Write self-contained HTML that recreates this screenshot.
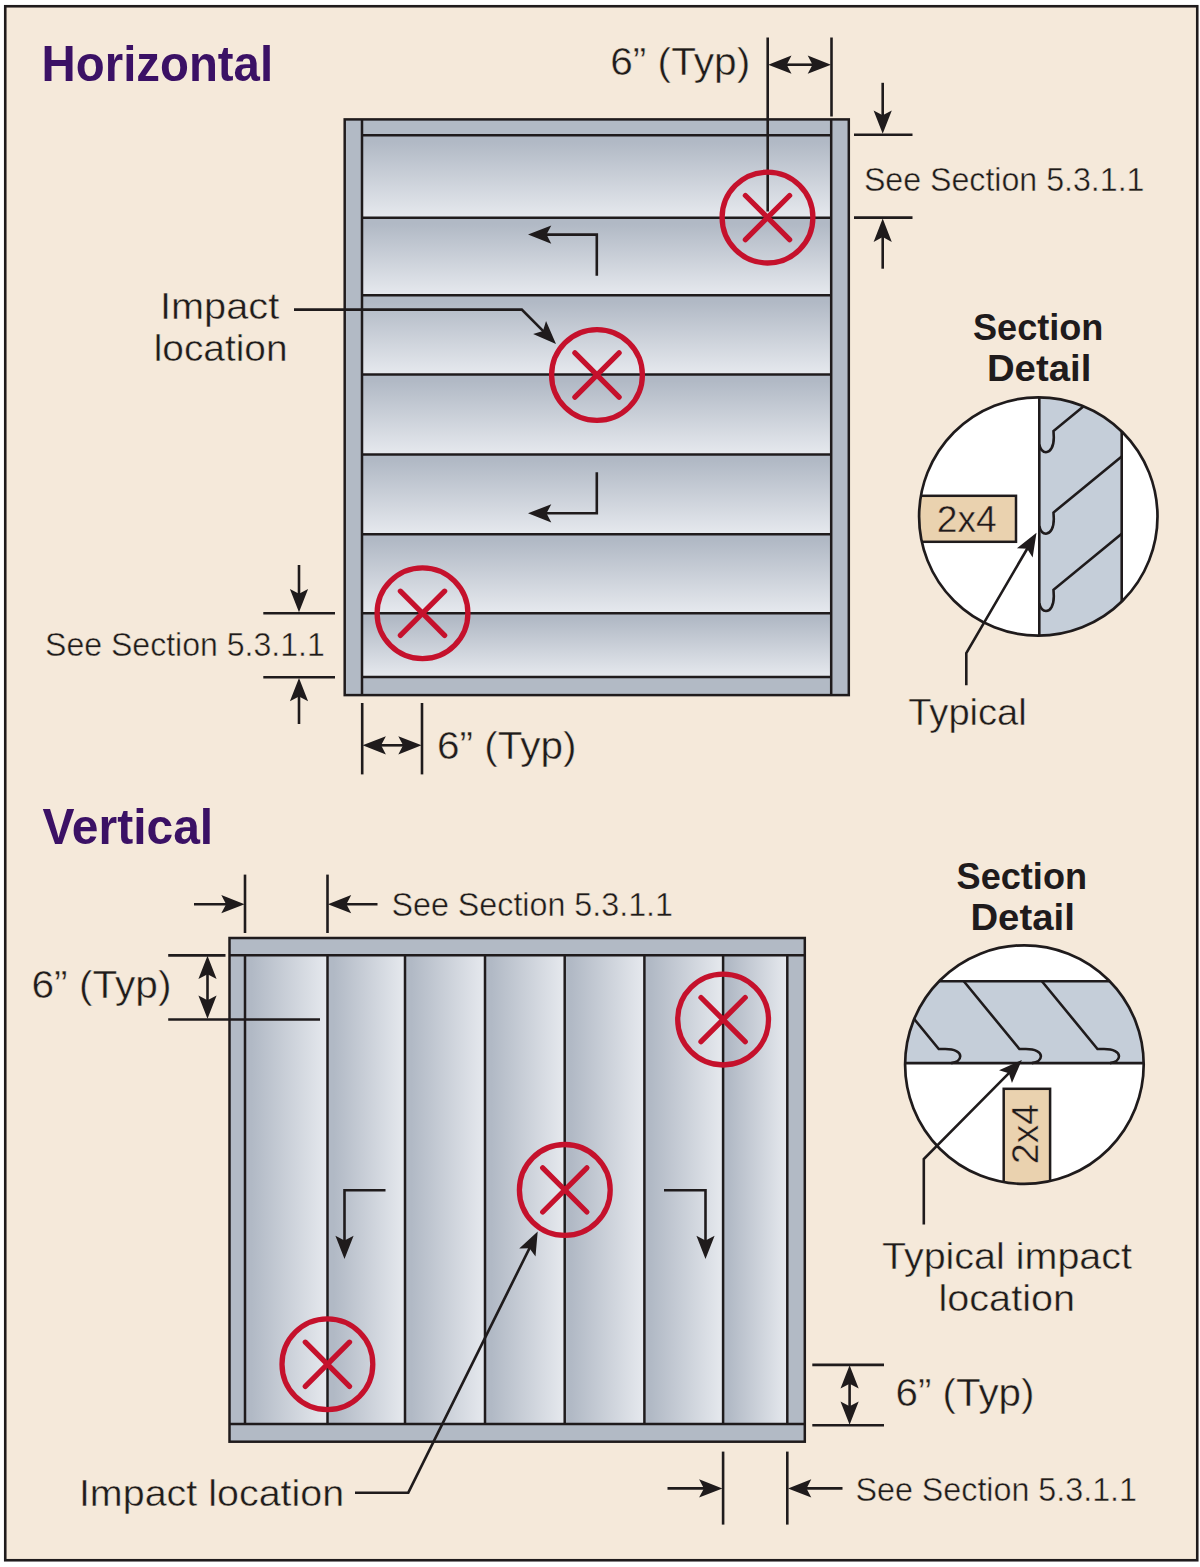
<!DOCTYPE html>
<html lang="en"><head><meta charset="utf-8"><title>Impact locations - horizontal and vertical</title>
<style>
html,body{margin:0;padding:0;background:#fff}
svg{display:block}
text{font-family:"Liberation Sans",sans-serif;fill:#1f1b1c}
.lt{stroke:#f5e9da;stroke-width:0.45px;stroke-linejoin:round}
.bd{font-weight:bold}
.hd{font-weight:bold;fill:#3b1165}
.lt2{stroke:#ead2af;stroke-width:0.45px;stroke-linejoin:round}
</style></head><body>
<svg width="1200" height="1567" viewBox="0 0 1200 1567">
<defs>
<linearGradient id="gh" x1="0" y1="0" x2="0" y2="1"><stop offset="0" stop-color="#b1b9c5"/><stop offset="0.08" stop-color="#b1b9c5"/><stop offset="1" stop-color="#e6e9ee"/></linearGradient>
<linearGradient id="gv" x1="0" y1="0" x2="1" y2="0"><stop offset="0" stop-color="#b1b9c5"/><stop offset="0.08" stop-color="#b1b9c5"/><stop offset="1" stop-color="#e6e9ee"/></linearGradient>
<clipPath id="c1"><circle cx="1038.3" cy="516.5" r="119.2"/></clipPath>
<clipPath id="c2"><circle cx="1024.4" cy="1064.6" r="119.3"/></clipPath>
</defs>
<rect x="0" y="0" width="1200" height="1567" fill="#fff"/>
<rect x="5.25" y="6.25" width="1192" height="1554" fill="#f5e9da" stroke="#1f1b1c" stroke-width="2.6"/>
<rect x="344.7" y="119.4" width="504.1" height="575.7" fill="#b2bac5"/>
<clipPath id="hc0"><rect x="362" y="135.3" width="469.2" height="82.5"/></clipPath>
<rect x="362" y="135.3" width="469.2" height="82.5" fill="url(#gh)" clip-path="url(#hc0)"/>
<clipPath id="hc1"><rect x="362" y="217.8" width="469.2" height="77.5"/></clipPath>
<rect x="362" y="217.8" width="469.2" height="77.5" fill="url(#gh)" clip-path="url(#hc1)"/>
<clipPath id="hc2"><rect x="362" y="295.3" width="469.2" height="79.3"/></clipPath>
<rect x="362" y="295.3" width="469.2" height="79.3" fill="url(#gh)" clip-path="url(#hc2)"/>
<clipPath id="hc3"><rect x="362" y="374.6" width="469.2" height="79.9"/></clipPath>
<rect x="362" y="374.6" width="469.2" height="79.9" fill="url(#gh)" clip-path="url(#hc3)"/>
<clipPath id="hc4"><rect x="362" y="454.5" width="469.2" height="79.8"/></clipPath>
<rect x="362" y="454.5" width="469.2" height="79.8" fill="url(#gh)" clip-path="url(#hc4)"/>
<clipPath id="hc5"><rect x="362" y="534.3" width="469.2" height="78.9"/></clipPath>
<rect x="362" y="534.3" width="469.2" height="78.9" fill="url(#gh)" clip-path="url(#hc5)"/>
<clipPath id="hc6"><rect x="362" y="613.2" width="469.2" height="63.9"/></clipPath>
<rect x="362" y="613.2" width="469.2" height="63.9" fill="url(#gh)" clip-path="url(#hc6)"/>
<line x1="362" y1="135.3" x2="831.2" y2="135.3" stroke="#1f1b1c" stroke-width="2.5" stroke-linecap="butt"/>
<line x1="362" y1="217.8" x2="831.2" y2="217.8" stroke="#1f1b1c" stroke-width="2.5" stroke-linecap="butt"/>
<line x1="362" y1="295.3" x2="831.2" y2="295.3" stroke="#1f1b1c" stroke-width="2.5" stroke-linecap="butt"/>
<line x1="362" y1="374.6" x2="831.2" y2="374.6" stroke="#1f1b1c" stroke-width="2.5" stroke-linecap="butt"/>
<line x1="362" y1="454.5" x2="831.2" y2="454.5" stroke="#1f1b1c" stroke-width="2.5" stroke-linecap="butt"/>
<line x1="362" y1="534.3" x2="831.2" y2="534.3" stroke="#1f1b1c" stroke-width="2.5" stroke-linecap="butt"/>
<line x1="362" y1="613.2" x2="831.2" y2="613.2" stroke="#1f1b1c" stroke-width="2.5" stroke-linecap="butt"/>
<line x1="362" y1="677.1" x2="831.2" y2="677.1" stroke="#1f1b1c" stroke-width="2.5" stroke-linecap="butt"/>
<line x1="362" y1="119.4" x2="362" y2="695.1" stroke="#1f1b1c" stroke-width="2.5" stroke-linecap="butt"/>
<line x1="831.2" y1="119.4" x2="831.2" y2="695.1" stroke="#1f1b1c" stroke-width="2.5" stroke-linecap="butt"/>
<rect x="344.7" y="119.4" width="504.1" height="575.7" fill="none" stroke="#1f1b1c" stroke-width="2.5"/>
<polyline points="596.8,275.7 596.8,234.6 545,234.6" fill="none" stroke="#1f1b1c" stroke-width="2.6" stroke-linejoin="miter"/>
<polygon points="528,234.6 551.3,243.7 546.5,234.6 551.3,225.5" fill="#1f1b1c"/>
<polyline points="596.8,472.2 596.8,513.3 545,513.3" fill="none" stroke="#1f1b1c" stroke-width="2.6" stroke-linejoin="miter"/>
<polygon points="528,513.3 551.3,522.4 546.5,513.3 551.3,504.2" fill="#1f1b1c"/>
<line x1="767.7" y1="37.5" x2="767.7" y2="211.5" stroke="#1f1b1c" stroke-width="2.6" stroke-linecap="butt"/>
<line x1="831.5" y1="37.5" x2="831.5" y2="116.5" stroke="#1f1b1c" stroke-width="2.6" stroke-linecap="butt"/>
<line x1="785.7" y1="64.7" x2="813.5" y2="64.7" stroke="#1f1b1c" stroke-width="2.6" stroke-linecap="butt"/>
<polygon points="831,64.7 807.7,55.6 812.5,64.7 807.7,73.8" fill="#1f1b1c"/>
<polygon points="768.2,64.7 791.5,73.8 786.7,64.7 791.5,55.6" fill="#1f1b1c"/>
<text class="lt" x="610.2" y="75" font-size="39.3" textLength="140" lengthAdjust="spacingAndGlyphs" text-anchor="start">6” (Typ)</text>
<line x1="854" y1="134.8" x2="912.5" y2="134.8" stroke="#1f1b1c" stroke-width="2.6" stroke-linecap="butt"/>
<line x1="854" y1="217.6" x2="912.5" y2="217.6" stroke="#1f1b1c" stroke-width="2.6" stroke-linecap="butt"/>
<line x1="882.7" y1="82.8" x2="882.7" y2="116.3" stroke="#1f1b1c" stroke-width="2.6" stroke-linecap="butt"/>
<polygon points="882.7,133.8 891.8,110.5 882.7,115.3 873.6,110.5" fill="#1f1b1c"/>
<line x1="882.7" y1="268.7" x2="882.7" y2="236.1" stroke="#1f1b1c" stroke-width="2.6" stroke-linecap="butt"/>
<polygon points="882.7,218.6 873.6,241.9 882.7,237.1 891.8,241.9" fill="#1f1b1c"/>
<text class="lt" x="863.9" y="191.2" font-size="33" textLength="280.6" lengthAdjust="spacingAndGlyphs" text-anchor="start">See Section 5.3.1.1</text>
<circle cx="767.5" cy="217.6" r="45.4" fill="none" stroke="#c5112c" stroke-width="5.3"/>
<line x1="745.4" y1="195.5" x2="789.6" y2="239.7" stroke="#c5112c" stroke-width="5.3" stroke-linecap="round"/>
<line x1="745.4" y1="239.7" x2="789.6" y2="195.5" stroke="#c5112c" stroke-width="5.3" stroke-linecap="round"/>
<circle cx="597" cy="375" r="45.4" fill="none" stroke="#c5112c" stroke-width="5.3"/>
<line x1="574.9" y1="352.9" x2="619.1" y2="397.1" stroke="#c5112c" stroke-width="5.3" stroke-linecap="round"/>
<line x1="574.9" y1="397.1" x2="619.1" y2="352.9" stroke="#c5112c" stroke-width="5.3" stroke-linecap="round"/>
<circle cx="422.5" cy="613.3" r="45.4" fill="none" stroke="#c5112c" stroke-width="5.3"/>
<line x1="400.4" y1="591.2" x2="444.6" y2="635.4" stroke="#c5112c" stroke-width="5.3" stroke-linecap="round"/>
<line x1="400.4" y1="635.4" x2="444.6" y2="591.2" stroke="#c5112c" stroke-width="5.3" stroke-linecap="round"/>
<text class="lt" x="160" y="319.3" font-size="37.4" textLength="119.2" lengthAdjust="spacingAndGlyphs" text-anchor="start">Impact</text>
<text class="lt" x="153.7" y="361.1" font-size="37.4" textLength="133.9" lengthAdjust="spacingAndGlyphs" text-anchor="start">location</text>
<polyline points="294,309.6 521.8,309.6 544.01,331.94" fill="none" stroke="#1f1b1c" stroke-width="2.6" stroke-linejoin="miter"/>
<polygon points="556,344 546.03,321.06 542.96,330.88 533.12,333.89" fill="#1f1b1c"/>
<line x1="263.3" y1="613.2" x2="335" y2="613.2" stroke="#1f1b1c" stroke-width="2.6" stroke-linecap="butt"/>
<line x1="263.3" y1="677.2" x2="335" y2="677.2" stroke="#1f1b1c" stroke-width="2.6" stroke-linecap="butt"/>
<line x1="299" y1="565" x2="299" y2="594.7" stroke="#1f1b1c" stroke-width="2.6" stroke-linecap="butt"/>
<polygon points="299,612.2 308.1,588.9 299,593.7 289.9,588.9" fill="#1f1b1c"/>
<line x1="299" y1="724" x2="299" y2="695.5" stroke="#1f1b1c" stroke-width="2.6" stroke-linecap="butt"/>
<polygon points="299,678 289.9,701.3 299,696.5 308.1,701.3" fill="#1f1b1c"/>
<text class="lt" x="45" y="656.2" font-size="33" textLength="279.8" lengthAdjust="spacingAndGlyphs" text-anchor="start">See Section 5.3.1.1</text>
<line x1="362.2" y1="703" x2="362.2" y2="774.4" stroke="#1f1b1c" stroke-width="2.6" stroke-linecap="butt"/>
<line x1="422" y1="703" x2="422" y2="774.4" stroke="#1f1b1c" stroke-width="2.6" stroke-linecap="butt"/>
<line x1="380.1" y1="745.3" x2="404.1" y2="745.3" stroke="#1f1b1c" stroke-width="2.6" stroke-linecap="butt"/>
<polygon points="421.6,745.3 398.3,736.2 403.1,745.3 398.3,754.4" fill="#1f1b1c"/>
<polygon points="362.6,745.3 385.9,754.4 381.1,745.3 385.9,736.2" fill="#1f1b1c"/>
<text class="lt" x="437" y="759.3" font-size="39.3" textLength="139.5" lengthAdjust="spacingAndGlyphs" text-anchor="start">6” (Typ)</text>
<text class="bd" x="1038.2" y="339.8" font-size="36.5" textLength="130.4" lengthAdjust="spacingAndGlyphs" text-anchor="middle">Section</text>
<text class="bd" x="1039.1" y="381.2" font-size="36.5" textLength="104.4" lengthAdjust="spacingAndGlyphs" text-anchor="middle">Detail</text>
<circle cx="1038.3" cy="516.5" r="119.2" fill="#fff"/>
<g clip-path="url(#c1)">
<rect x="1039.3" y="380" width="82.4" height="280" fill="#c5ced9"/>
<rect x="900" y="495.8" width="116" height="46" fill="#ead2af" stroke="#1f1b1c" stroke-width="2.5"/>
<line x1="1121.7" y1="380" x2="1121.7" y2="660" stroke="#1f1b1c" stroke-width="2.6" stroke-linecap="butt"/>
<path d="M1121.7,375 L1053.5,431 L1053.8,437.5 C1053.8,446.5 1050.5,452.2 1046,452.2 C1042,452.2 1040.2,448.5 1039.3,444.5" fill="none" stroke="#1f1b1c" stroke-width="2.6" stroke-linejoin="miter"/>
<path d="M1121.7,456.5 L1053.5,512.5 L1053.8,519 C1053.8,528 1050.5,533.7 1046,533.7 C1042,533.7 1040.2,530 1039.3,526" fill="none" stroke="#1f1b1c" stroke-width="2.6" stroke-linejoin="miter"/>
<path d="M1121.7,533.8 L1053.5,589.8 L1053.8,596.3 C1053.8,605.3 1050.5,611 1046,611 C1042,611 1040.2,607.3 1039.3,603.3" fill="none" stroke="#1f1b1c" stroke-width="2.6" stroke-linejoin="miter"/>
<line x1="1039.3" y1="380" x2="1039.3" y2="660" stroke="#1f1b1c" stroke-width="2.6" stroke-linecap="butt"/>
</g>
<circle cx="1038.3" cy="516.5" r="119.2" fill="none" stroke="#1f1b1c" stroke-width="2.7"/>
<text class="lt2" x="936.8" y="531.8" font-size="36.5" textLength="60" lengthAdjust="spacingAndGlyphs" text-anchor="start">2x4</text>
<polyline points="966.3,685.2 966.3,653 1027.94,547.49" fill="none" stroke="#1f1b1c" stroke-width="2.6" stroke-linejoin="miter"/>
<polygon points="1036.5,532.8 1016.91,548.36 1027.19,548.79 1032.64,557.51" fill="#1f1b1c"/>
<text class="lt" x="908.2" y="725.1" font-size="37.4" textLength="118.6" lengthAdjust="spacingAndGlyphs" text-anchor="start">Typical</text>
<text class="hd" x="41.6" y="81.2" font-size="50.3" textLength="231.5" lengthAdjust="spacingAndGlyphs" text-anchor="start">Horizontal</text>
<text class="hd" x="42.5" y="843.7" font-size="50.3" textLength="170.7" lengthAdjust="spacingAndGlyphs" text-anchor="start">Vertical</text>
<rect x="229.5" y="938" width="575.3" height="503.7" fill="#b2bac5"/>
<clipPath id="vc0"><rect x="245" y="955.2" width="82.5" height="468.8"/></clipPath>
<rect x="245" y="955.2" width="82.5" height="468.8" fill="url(#gv)" clip-path="url(#vc0)"/>
<clipPath id="vc1"><rect x="327.5" y="955.2" width="77.5" height="468.8"/></clipPath>
<rect x="327.5" y="955.2" width="77.5" height="468.8" fill="url(#gv)" clip-path="url(#vc1)"/>
<clipPath id="vc2"><rect x="405" y="955.2" width="80" height="468.8"/></clipPath>
<rect x="405" y="955.2" width="80" height="468.8" fill="url(#gv)" clip-path="url(#vc2)"/>
<clipPath id="vc3"><rect x="485" y="955.2" width="79.7" height="468.8"/></clipPath>
<rect x="485" y="955.2" width="79.7" height="468.8" fill="url(#gv)" clip-path="url(#vc3)"/>
<clipPath id="vc4"><rect x="564.7" y="955.2" width="79.7" height="468.8"/></clipPath>
<rect x="564.7" y="955.2" width="79.7" height="468.8" fill="url(#gv)" clip-path="url(#vc4)"/>
<clipPath id="vc5"><rect x="644.4" y="955.2" width="78.7" height="468.8"/></clipPath>
<rect x="644.4" y="955.2" width="78.7" height="468.8" fill="url(#gv)" clip-path="url(#vc5)"/>
<clipPath id="vc6"><rect x="723.1" y="955.2" width="64.2" height="468.8"/></clipPath>
<rect x="723.1" y="955.2" width="64.2" height="468.8" fill="url(#gv)" clip-path="url(#vc6)"/>
<line x1="245" y1="955.2" x2="245" y2="1424" stroke="#1f1b1c" stroke-width="2.5" stroke-linecap="butt"/>
<line x1="327.5" y1="955.2" x2="327.5" y2="1424" stroke="#1f1b1c" stroke-width="2.5" stroke-linecap="butt"/>
<line x1="405" y1="955.2" x2="405" y2="1424" stroke="#1f1b1c" stroke-width="2.5" stroke-linecap="butt"/>
<line x1="485" y1="955.2" x2="485" y2="1424" stroke="#1f1b1c" stroke-width="2.5" stroke-linecap="butt"/>
<line x1="564.7" y1="955.2" x2="564.7" y2="1424" stroke="#1f1b1c" stroke-width="2.5" stroke-linecap="butt"/>
<line x1="644.4" y1="955.2" x2="644.4" y2="1424" stroke="#1f1b1c" stroke-width="2.5" stroke-linecap="butt"/>
<line x1="723.1" y1="955.2" x2="723.1" y2="1424" stroke="#1f1b1c" stroke-width="2.5" stroke-linecap="butt"/>
<line x1="787.3" y1="955.2" x2="787.3" y2="1424" stroke="#1f1b1c" stroke-width="2.5" stroke-linecap="butt"/>
<line x1="229.5" y1="955.2" x2="804.8" y2="955.2" stroke="#1f1b1c" stroke-width="2.5" stroke-linecap="butt"/>
<line x1="229.5" y1="1424" x2="804.8" y2="1424" stroke="#1f1b1c" stroke-width="2.5" stroke-linecap="butt"/>
<rect x="229.5" y="938" width="575.3" height="503.7" fill="none" stroke="#1f1b1c" stroke-width="2.5"/>
<polyline points="385.5,1190.3 344.5,1190.3 344.5,1244" fill="none" stroke="#1f1b1c" stroke-width="2.6" stroke-linejoin="miter"/>
<polygon points="344.5,1259 353.6,1235.7 344.5,1240.5 335.4,1235.7" fill="#1f1b1c"/>
<polyline points="664,1190.3 705.5,1190.3 705.5,1244" fill="none" stroke="#1f1b1c" stroke-width="2.6" stroke-linejoin="miter"/>
<polygon points="705.5,1259 714.6,1235.7 705.5,1240.5 696.4,1235.7" fill="#1f1b1c"/>
<line x1="245" y1="874.6" x2="245" y2="933" stroke="#1f1b1c" stroke-width="2.6" stroke-linecap="butt"/>
<line x1="327.5" y1="874.6" x2="327.5" y2="933" stroke="#1f1b1c" stroke-width="2.6" stroke-linecap="butt"/>
<line x1="194" y1="904.2" x2="227.1" y2="904.2" stroke="#1f1b1c" stroke-width="2.6" stroke-linecap="butt"/>
<polygon points="244.6,904.2 221.3,895.1 226.1,904.2 221.3,913.3" fill="#1f1b1c"/>
<line x1="377.5" y1="904.2" x2="345.4" y2="904.2" stroke="#1f1b1c" stroke-width="2.6" stroke-linecap="butt"/>
<polygon points="327.9,904.2 351.2,913.3 346.4,904.2 351.2,895.1" fill="#1f1b1c"/>
<text class="lt" x="391.5" y="916.2" font-size="33" textLength="281.5" lengthAdjust="spacingAndGlyphs" text-anchor="start">See Section 5.3.1.1</text>
<line x1="168.2" y1="955.4" x2="225.5" y2="955.4" stroke="#1f1b1c" stroke-width="2.6" stroke-linecap="butt"/>
<line x1="168.2" y1="1019.5" x2="320" y2="1019.5" stroke="#1f1b1c" stroke-width="2.6" stroke-linecap="butt"/>
<line x1="207.5" y1="973.2" x2="207.5" y2="1001.3" stroke="#1f1b1c" stroke-width="2.6" stroke-linecap="butt"/>
<polygon points="207.5,1018.8 216.6,995.5 207.5,1000.3 198.4,995.5" fill="#1f1b1c"/>
<polygon points="207.5,955.7 198.4,979 207.5,974.2 216.6,979" fill="#1f1b1c"/>
<text class="lt" x="31.5" y="997.6" font-size="39.3" textLength="140" lengthAdjust="spacingAndGlyphs" text-anchor="start">6” (Typ)</text>
<line x1="812.3" y1="1364.9" x2="884" y2="1364.9" stroke="#1f1b1c" stroke-width="2.6" stroke-linecap="butt"/>
<line x1="812.3" y1="1425.2" x2="884" y2="1425.2" stroke="#1f1b1c" stroke-width="2.6" stroke-linecap="butt"/>
<line x1="849.6" y1="1382.8" x2="849.6" y2="1407.3" stroke="#1f1b1c" stroke-width="2.6" stroke-linecap="butt"/>
<polygon points="849.6,1424.8 858.7,1401.5 849.6,1406.3 840.5,1401.5" fill="#1f1b1c"/>
<polygon points="849.6,1365.3 840.5,1388.6 849.6,1383.8 858.7,1388.6" fill="#1f1b1c"/>
<text class="lt" x="895.5" y="1406" font-size="39.3" textLength="139" lengthAdjust="spacingAndGlyphs" text-anchor="start">6” (Typ)</text>
<line x1="723.1" y1="1451.6" x2="723.1" y2="1524.6" stroke="#1f1b1c" stroke-width="2.6" stroke-linecap="butt"/>
<line x1="787.3" y1="1451.6" x2="787.3" y2="1524.6" stroke="#1f1b1c" stroke-width="2.6" stroke-linecap="butt"/>
<line x1="667.5" y1="1488.4" x2="704.9" y2="1488.4" stroke="#1f1b1c" stroke-width="2.6" stroke-linecap="butt"/>
<polygon points="722.4,1488.4 699.1,1479.3 703.9,1488.4 699.1,1497.5" fill="#1f1b1c"/>
<line x1="842.5" y1="1488.4" x2="805.5" y2="1488.4" stroke="#1f1b1c" stroke-width="2.6" stroke-linecap="butt"/>
<polygon points="788,1488.4 811.3,1497.5 806.5,1488.4 811.3,1479.3" fill="#1f1b1c"/>
<text class="lt" x="855.5" y="1501.2" font-size="33" textLength="281.5" lengthAdjust="spacingAndGlyphs" text-anchor="start">See Section 5.3.1.1</text>
<circle cx="723.1" cy="1019.6" r="45.4" fill="none" stroke="#c5112c" stroke-width="5.3"/>
<line x1="701" y1="997.5" x2="745.2" y2="1041.7" stroke="#c5112c" stroke-width="5.3" stroke-linecap="round"/>
<line x1="701" y1="1041.7" x2="745.2" y2="997.5" stroke="#c5112c" stroke-width="5.3" stroke-linecap="round"/>
<circle cx="564.8" cy="1189.9" r="45.4" fill="none" stroke="#c5112c" stroke-width="5.3"/>
<line x1="542.7" y1="1167.8" x2="586.9" y2="1212" stroke="#c5112c" stroke-width="5.3" stroke-linecap="round"/>
<line x1="542.7" y1="1212" x2="586.9" y2="1167.8" stroke="#c5112c" stroke-width="5.3" stroke-linecap="round"/>
<circle cx="327.4" cy="1364.3" r="45.4" fill="none" stroke="#c5112c" stroke-width="5.3"/>
<line x1="305.3" y1="1342.2" x2="349.5" y2="1386.4" stroke="#c5112c" stroke-width="5.3" stroke-linecap="round"/>
<line x1="305.3" y1="1386.4" x2="349.5" y2="1342.2" stroke="#c5112c" stroke-width="5.3" stroke-linecap="round"/>
<text class="lt" x="78.9" y="1505.6" font-size="37.4" textLength="265.3" lengthAdjust="spacingAndGlyphs" text-anchor="start">Impact location</text>
<polyline points="355,1492.7 408.3,1492.7 530.15,1246.83" fill="none" stroke="#1f1b1c" stroke-width="2.6" stroke-linejoin="miter"/>
<polygon points="537.7,1231.6 519.2,1248.44 529.49,1248.18 535.51,1256.52" fill="#1f1b1c"/>
<text class="bd" x="1021.8" y="888.8" font-size="36.5" textLength="130.4" lengthAdjust="spacingAndGlyphs" text-anchor="middle">Section</text>
<text class="bd" x="1022.6" y="930.1" font-size="36.5" textLength="104.4" lengthAdjust="spacingAndGlyphs" text-anchor="middle">Detail</text>
<circle cx="1024.4" cy="1064.6" r="119.3" fill="#fff"/>
<g clip-path="url(#c2)">
<rect x="880" y="981.2" width="290" height="81.9" fill="#c5ced9"/>
<rect x="1003.7" y="1088.8" width="46.4" height="120" fill="#ead2af" stroke="#1f1b1c" stroke-width="2.5"/>
<line x1="880" y1="981.2" x2="1170" y2="981.2" stroke="#1f1b1c" stroke-width="2.6" stroke-linecap="butt"/>
<path d="M802.9,981.2 L858.5,1049 L865,1049 C874.5,1049 880,1052 880,1056.3 C880,1060 876,1062.6 871,1063.1" fill="none" stroke="#1f1b1c" stroke-width="2.6" stroke-linejoin="miter"/>
<path d="M883.15,981.2 L938.75,1049 L945.25,1049 C954.75,1049 960.25,1052 960.25,1056.3 C960.25,1060 956.25,1062.6 951.25,1063.1" fill="none" stroke="#1f1b1c" stroke-width="2.6" stroke-linejoin="miter"/>
<path d="M963.8,981.2 L1019.4,1049 L1025.9,1049 C1035.4,1049 1040.9,1052 1040.9,1056.3 C1040.9,1060 1036.9,1062.6 1031.9,1063.1" fill="none" stroke="#1f1b1c" stroke-width="2.6" stroke-linejoin="miter"/>
<path d="M1041.9,981.2 L1097.5,1049 L1104,1049 C1113.5,1049 1119,1052 1119,1056.3 C1119,1060 1115,1062.6 1110,1063.1" fill="none" stroke="#1f1b1c" stroke-width="2.6" stroke-linejoin="miter"/>
<path d="M1120.9,981.2 L1176.5,1049 L1183,1049 C1192.5,1049 1198,1052 1198,1056.3 C1198,1060 1194,1062.6 1189,1063.1" fill="none" stroke="#1f1b1c" stroke-width="2.6" stroke-linejoin="miter"/>
<line x1="880" y1="1063.1" x2="1170" y2="1063.1" stroke="#1f1b1c" stroke-width="2.6" stroke-linecap="butt"/>
</g>
<circle cx="1024.4" cy="1064.6" r="119.3" fill="none" stroke="#1f1b1c" stroke-width="2.7"/>
<text class="lt2" font-size="36.5" textLength="60" lengthAdjust="spacingAndGlyphs" transform="translate(1038.4,1164) rotate(-90)">2x4</text>
<polyline points="923.8,1224.4 923.8,1159 1009.93,1072.08" fill="none" stroke="#1f1b1c" stroke-width="2.6" stroke-linejoin="miter"/>
<polygon points="1021.9,1060 999.04,1070.15 1008.88,1073.14 1011.96,1082.96" fill="#1f1b1c"/>
<text class="lt" x="882" y="1268.6" font-size="37.2" textLength="250" lengthAdjust="spacingAndGlyphs" text-anchor="start">Typical impact</text>
<text class="lt" x="938.5" y="1310.7" font-size="37.2" textLength="136.5" lengthAdjust="spacingAndGlyphs" text-anchor="start">location</text>
</svg>
</body></html>
